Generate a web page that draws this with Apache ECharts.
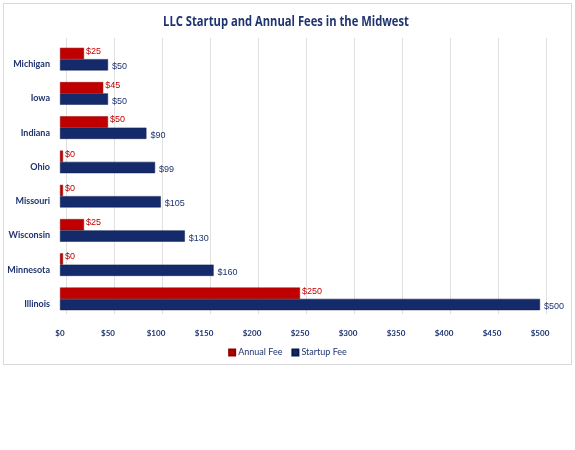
<!DOCTYPE html>
<html>
<head>
<meta charset="utf-8">
<script src="https://cdn.jsdelivr.net/npm/echarts@6.0.0/dist/echarts.min.js"></script>
<style>
  html, body { margin: 0; padding: 0; background: #fff; }
  #frame { position: absolute; left: 3px; top: 3px; width: 569px; height: 362px; border: 1px solid #d9d9d9; box-sizing: border-box; }
  #chart { position: absolute; left: 0; top: 0; width: 575px; height: 450px; }
</style>
</head>
<body>
<div id="frame"></div>
<div id="chart"></div>
<script>
const states = ['Michigan', 'Iowa', 'Indiana', 'Ohio', 'Missouri', 'Wisconsin', 'Minnesota', 'Illinois']
const annualFee = [25, 45, 50, 0, 0, 25, 0, 250]
const startupFee = [50, 50, 90, 99, 105, 130, 160, 500]

const red = '#c00000'
const navy = '#142a6b'
const textNavy = '#1f3470'

const chart = echarts.init(document.getElementById('chart'))
chart.setOption({
  animation: false,
  // title drawn as graphic text so it can be squeezed like the narrow original font
  graphic: [
    {
      type: 'text',
      x: 286,
      y: 22,
      scaleX: 0.8,
      style: {
        text: 'LLC Startup and Annual Fees in the Midwest',
        x: 0,
        y: 0,
        align: 'center',
        verticalAlign: 'middle',
        fontFamily: 'Open Sans',
        fontSize: 14,
        fontWeight: 'bold',
        fill: textNavy,
      },
    },
  ],
  legend: {
    bottom: 88,
    left: 'center',
    itemWidth: 6,
    itemHeight: 6,
    itemGap: 9,
    icon: 'rect',
    textStyle: { fontFamily: 'Lato', fontSize: 9, color: textNavy, padding: [0, 0, 0, -2] },
    data: ['Annual Fee', 'Startup Fee'],
  },
  grid: [
    { left: 60, right: 35, top: 42, bottom: 134 },
    // back-wall gridlines, shifted right like the 3D original
    { left: 66, right: 29, top: 38, bottom: 136 },
  ],
  xAxis: [
    {
      type: 'value',
      gridIndex: 0,
      min: 0,
      max: 500,
      interval: 50,
      axisLine: { show: false },
      axisTick: { show: false },
      splitLine: { show: false },
      axisLabel: {
        margin: 13,
        fontFamily: 'Lato',
        fontWeight: 'bold',
        fontSize: 8,
        color: textNavy,
        formatter: (v) => '$' + v,
      },
    },
    {
      type: 'value',
      gridIndex: 1,
      min: 0,
      max: 500,
      interval: 50,
      axisLine: { show: false },
      axisTick: { show: false },
      axisLabel: { show: false },
      splitLine: { lineStyle: { color: '#e0e0e0', width: 1 } },
    },
  ],
  yAxis: [
    {
      type: 'category',
      gridIndex: 0,
      inverse: true,
      data: states,
      axisLine: { show: false },
      axisTick: { show: false },
      axisLabel: {
        margin: 10,
        verticalAlign: 'top',
        lineHeight: 10,
        fontFamily: 'Lato',
        fontWeight: 'bold',
        fontSize: 9,
        color: textNavy,
      },
    },
    {
      type: 'category',
      gridIndex: 1,
      data: states,
      show: false,
    },
  ],
  series: [
    {
      name: 'Annual Fee',
      type: 'bar',
      data: annualFee,
      barGap: '0%',
      barCategoryGap: '34%',
      barMinHeight: 3,
      z: 3,
      itemStyle: { color: red, borderColor: '#8f0000', borderWidth: 0.5 },
      label: {
        show: true,
        position: 'right',
        distance: 2,
        offset: [0, -2],
        fontFamily: 'Liberation Sans',
        fontSize: 9,
        color: red,
        formatter: (p) => '$' + p.value,
      },
    },
    {
      name: 'Startup Fee',
      type: 'bar',
      data: startupFee,
      z: 3,
      itemStyle: { color: navy, borderColor: '#0a1a4a', borderWidth: 0.5 },
      label: {
        show: true,
        position: 'right',
        distance: 4,
        offset: [0, 2],
        fontFamily: 'Liberation Sans',
        fontSize: 9,
        color: textNavy,
        formatter: (p) => '$' + p.value,
      },
    },
  ],
})
</script>
</body>
</html>
